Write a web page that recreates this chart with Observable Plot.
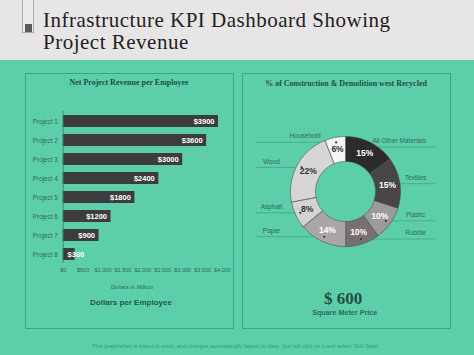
<!DOCTYPE html>
<html>
<head>
<meta charset="utf-8">
<script src="https://cdn.jsdelivr.net/npm/d3@7"></script>
<script src="https://cdn.jsdelivr.net/npm/@observablehq/plot@0.6"></script>
<style>
  html, body { margin: 0; padding: 0; }
  body { width: 474px; height: 355px; position: relative; overflow: hidden; background: #5ccfaa; font-family: "Liberation Sans", Arial, sans-serif; }
  .abs { position: absolute; white-space: nowrap; }
  .serif { font-family: "Liberation Serif", "Times New Roman", serif; }
  .panel { position: absolute; border: 1px solid #3aa785; box-sizing: border-box; }
  .center { transform: translateX(-50%); text-align: center; line-height: 1; }
</style>
</head>
<body>
<div class="abs" style="left:0;top:0;width:474px;height:60px;background:#e7e5e5;"></div>
<div class="abs" style="left:22px;top:-1px;width:12px;height:34px;border:1px solid #a9a9a9;box-sizing:border-box;background:#ecebeb;"></div>
<div class="abs" style="left:25px;top:24px;width:7px;height:8px;background:#5a5a5a;"></div>
<div class="abs serif" style="left:43px;top:10.4px;font-size:21px;line-height:21.7px;letter-spacing:0.5px;color:#222;">Infrastructure KPI Dashboard Showing<br>Project Revenue</div>

<div class="panel" style="left:25px;top:73px;width:209px;height:256px;"></div>
<div class="panel" style="left:242px;top:73px;width:209px;height:256px;"></div>

<div class="abs serif center" style="left:129px;top:79.3px;font-size:8px;font-weight:bold;color:#1f4f40;">Net Project Revenue per Employee</div>
<div class="abs serif center" style="left:346px;top:80.3px;font-size:8px;font-weight:bold;color:#1f4f40;">% of Construction &amp; Demolition west Recycled</div>

<div id="bars" class="abs" style="left:25px;top:90px;"></div>
<div id="donut" class="abs" style="left:242px;top:90px;"></div>

<div class="abs center" style="left:132px;top:285.1px;font-size:5.8px;color:#2d6b56;">Dollars in Million</div>
<div class="abs center" style="left:131px;top:299.2px;font-size:8px;font-weight:bold;color:#23594a;">Dollars per Employee</div>
<div class="abs serif center" style="left:343px;top:289.8px;font-size:17px;font-weight:bold;color:#1f4f40;">$ 600</div>
<div class="abs center" style="left:344.7px;top:308.9px;font-size:7.2px;font-weight:bold;color:#2b6b55;">Square Meter Price</div>
<div class="abs center" style="left:236.5px;top:343.8px;font-size:5.5px;color:#3c9a7b;">This graph/chart is linked to excel, and changes automatically based on data. Just left click on it and select “Edit Data”.</div>

<script>
// ---- Data ----
const projects = ["Project 1", "Project 2", "Project 3", "Project 4", "Project 5", "Project 6", "Project 7", "Project 8"];
const revenue = [3900, 3600, 3000, 2400, 1800, 1200, 900, 300];
const xTicks = [0, 500, 1000, 1500, 2000, 2500, 3000, 3500, 4000];

const materials = ["All Other Materials", "Textiles", "Plastic", "Rubble", "Paper", "Asphalt", "Wood", "Household"];
const shares = [15, 15, 10, 10, 14, 8, 22, 6];
const shadePalette = ["#2b2b2b", "#474545", "#9c9a9a", "#7a6f6f", "#aaa6a6", "#d4d2d2", "#d7d5d5", "#f4f4f4"];
const labelInk = ["#fff", "#fff", "#fff", "#fff", "#fff", "#333", "#333", "#333"];

// ---- Bar chart ----
const barData = projects.map((p, i) => ({project: p, value: revenue[i]}));
const bars = Plot.plot({
  width: 209, height: 200,
  marginLeft: 37.7, marginRight: 12, marginTop: 21, marginBottom: 27,
  style: {background: "transparent", color: "#2d6b56", fontFamily: "Liberation Sans, Arial, sans-serif"},
  x: {domain: [0, 4000]},
  y: {domain: projects, paddingInner: 0.37, paddingOuter: 0.1},
  marks: [
    Plot.barX(barData, {x: "value", y: "project", fill: "#3c3c3c"}),
    Plot.ruleX([0], {stroke: "#3b7f69", strokeWidth: 0.8}),
    Plot.text(barData, {x: d => Math.max(d.value, 630), y: "project", text: d => "$" + d.value, textAnchor: "end", dx: -4, fill: "#fff", fontWeight: "bold", fontSize: 7.5}),
    Plot.axisX({ticks: xTicks, tickFormat: d => "$" + d3.format(",")(d), tickSize: 0, tickPadding: 5, fontSize: 5.5, label: null}),
    Plot.axisY({tickSize: 0, tickPadding: 5.5, fontSize: 6.3, label: null})
  ]
});
document.getElementById("bars").appendChild(bars);

// ---- Donut chart ----
const R0 = 30, R1 = 55;
const pieData = materials.map((m, i) => ({name: m, value: shares[i], color: shadePalette[i], ink: labelInk[i]}));
const arcs = d3.pie().sort(null).value(d => d.value)(pieData);
const ringPts = [];
arcs.forEach(a => {
  const n = Math.max(2, Math.ceil((a.endAngle - a.startAngle) / 0.02));
  for (let k = 0; k <= n; k++) {
    const t = a.startAngle + (a.endAngle - a.startAngle) * k / n;
    ringPts.push({name: a.data.name, color: a.data.color, x: R1 * Math.sin(t), y: R1 * Math.cos(t)});
  }
  for (let k = n; k >= 0; k--) {
    const t = a.startAngle + (a.endAngle - a.startAngle) * k / n;
    ringPts.push({name: a.data.name, color: a.data.color, x: R0 * Math.sin(t), y: R0 * Math.cos(t)});
  }
});
const mids = arcs.map(a => {
  const m = (a.startAngle + a.endAngle) / 2;
  const side = Math.sin(m) < 0 ? -1 : 1;
  const dx = 50 * Math.sin(m), dy = 50 * Math.cos(m);
  const top = Math.cos(m) > 0.85;
  const lx = top ? dx + side * 31 : (side < 0 ? -74 : 70);
  return {
    name: a.data.name, value: a.data.value, ink: a.data.ink,
    px: 42.5 * Math.sin(m), py: 42.5 * Math.cos(m),
    dx, dy, side, lx, lend: side * 90
  };
});

const donut = Plot.plot({
  width: 209, height: 170,
  margin: 0,
  style: {background: "transparent", fontFamily: "Liberation Sans, Arial, sans-serif"},
  x: {domain: [-103, 106], axis: null},
  y: {domain: [-69, 101], axis: null},
  marks: [
    Plot.link(mids, {x1: "dx", y1: "dy", x2: "lend", y2: "dy", stroke: "#3a9878", strokeWidth: 0.6}),
    Plot.line(ringPts, {x: "x", y: "y", z: "name", fill: "color", stroke: "#4d4d4d", strokeWidth: 0.6, curve: "linear-closed"}),
    Plot.dot(mids, {x: "dx", y: "dy", r: 1.1, fill: "#2a3a34"}),
    Plot.text(mids, {x: "px", y: "py", text: d => d.value + "%", fill: "ink", fontWeight: "bold", fontSize: 8.5}),
    Plot.text(mids, {x: "lx", y: "dy", dy: -6, text: "name", fill: "#2e6b57", fontSize: 6.5})
  ]
});
document.getElementById("donut").appendChild(donut);
</script>
</body>
</html>
